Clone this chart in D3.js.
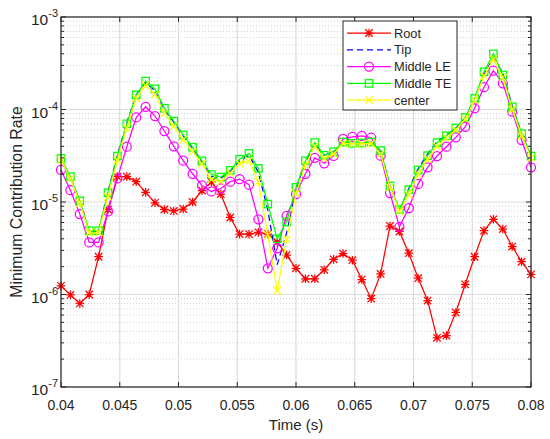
<!DOCTYPE html>
<html>
<head>
<meta charset="utf-8">
<script src="https://cdn.jsdelivr.net/npm/d3@7"></script>
<style>
  body { margin: 0; background: #fff; }
  text { font-family: "Liberation Sans", Arial, Helvetica, sans-serif; fill: #262626; }
</style>
</head>
<body>
<div id="chart"></div>
<script>
const width = 550;
const height = 439;

// sample times (s), 0.04 .. 0.08 every 0.8 ms
const time = d3.range(51).map(i => +(0.04 + i * 0.0008).toFixed(4));

const root = [1.24e-6, 0.99e-6, 8.0e-7, 1.0e-6, 2.56e-6, 8.3e-6, 1.88e-5, 1.88e-5, 1.66e-5, 1.27e-5,
  9.8e-6, 8.3e-6, 8.0e-6, 8.4e-6, 1.0e-5, 1.33e-5, 1.64e-5, 1.22e-5, 6.8e-6, 4.5e-6,
  4.5e-6, 4.7e-6, 4.5e-6, 3.7e-6, 2.67e-6, 1.92e-6, 1.48e-6, 1.48e-6, 1.85e-6, 2.4e-6,
  2.77e-6, 2.35e-6, 1.45e-6, 9.0e-7, 1.67e-6, 5.5e-6, 4.8e-6, 2.8e-6, 1.5e-6, 8.6e-7,
  3.4e-7, 3.6e-7, 6.4e-7, 1.29e-6, 2.56e-6, 4.9e-6, 6.5e-6, 5.1e-6, 3.3e-6, 2.26e-6, 1.65e-6];

const tip = [2.9e-5, 1.85e-5, 1.0e-5, 4.7e-6, 4.8e-6, 1.3e-5, 3.2e-5, 7.2e-5, 1.45e-4, 1.95e-4,
  1.6e-4, 1.0e-4, 7.3e-5, 5.2e-5, 3.8e-5, 2.7e-5, 1.9e-5, 1.8e-5, 2.15e-5, 2.8e-5,
  3.2e-5, 2.1e-5, 8.2e-6, 2.1e-6, 4.6e-6, 1.35e-5, 2.7e-5, 4.2e-5, 3.2e-5, 3.5e-5,
  4.3e-5, 4.3e-5, 4.3e-5, 4.4e-5, 3.6e-5, 1.5e-5, 8.0e-6, 1.4e-5, 2.3e-5, 3.3e-5,
  4.5e-5, 5.3e-5, 6.3e-5, 8.0e-5, 1.3e-4, 2.4e-4, 3.6e-4, 2.5e-4, 1.1e-4, 5.5e-5, 3.1e-5];

const middleLE = [2.22e-5, 1.34e-5, 7.4e-6, 3.66e-6, 3.66e-6, 7.9e-6, 1.8e-5, 3.96e-5, 8.2e-5, 1.07e-4,
  8.5e-5, 5.85e-5, 4.0e-5, 2.8e-5, 2.02e-5, 1.51e-5, 1.3e-5, 1.4e-5, 1.66e-5, 1.77e-5,
  1.54e-5, 6.5e-6, 1.92e-6, 3.16e-6, 7.1e-6, 1.22e-5, 2.02e-5, 3.0e-5, 2.62e-5, 3.15e-5,
  4.8e-5, 5.05e-5, 5.2e-5, 4.95e-5, 3.17e-5, 1.25e-5, 5.4e-6, 8.6e-6, 1.57e-5, 2.37e-5,
  3.14e-5, 3.96e-5, 5.0e-5, 6.5e-5, 1.03e-4, 1.74e-4, 2.63e-4, 1.92e-4, 9.5e-5, 4.68e-5, 2.37e-5];

const middleTE = [2.95e-5, 1.88e-5, 1.03e-5, 4.9e-6, 4.9e-6, 1.26e-5, 3.14e-5, 7.0e-5, 1.44e-4, 2.03e-4,
  1.67e-4, 1.03e-4, 7.5e-5, 5.3e-5, 3.9e-5, 2.78e-5, 1.98e-5, 1.86e-5, 2.2e-5, 2.9e-5,
  3.35e-5, 2.31e-5, 9.5e-6, 4.0e-6, 6.1e-6, 1.44e-5, 2.79e-5, 4.4e-5, 3.2e-5, 3.5e-5,
  4.45e-5, 4.3e-5, 4.35e-5, 4.45e-5, 3.6e-5, 1.49e-5, 8.3e-6, 1.36e-5, 2.22e-5, 3.17e-5,
  4.38e-5, 5.2e-5, 6.3e-5, 8.2e-5, 1.32e-4, 2.56e-4, 4.0e-4, 2.36e-4, 1.07e-4, 5.5e-5, 3.14e-5];

const center = [2.84e-5, 1.8e-5, 9.7e-6, 4.65e-6, 4.65e-6, 1.14e-5, 2.84e-5, 6.3e-5, 1.32e-4, 1.83e-4,
  1.45e-4, 9.1e-5, 6.6e-5, 4.7e-5, 3.5e-5, 2.6e-5, 1.75e-5, 1.66e-5, 2.05e-5, 2.6e-5,
  2.8e-5, 1.65e-5, 4.4e-6, 1.1e-6, 3.95e-6, 1.24e-5, 2.5e-5, 4.0e-5, 2.96e-5, 3.3e-5,
  4.3e-5, 4.25e-5, 4.25e-5, 4.3e-5, 3.3e-5, 1.44e-5, 7.9e-6, 1.2e-5, 2.0e-5, 2.9e-5,
  4.0e-5, 4.9e-5, 6.0e-5, 7.8e-5, 1.25e-4, 2.3e-4, 3.5e-4, 2.2e-4, 1.0e-4, 5.2e-5, 3.0e-5];

const xTicks = [0.04, 0.045, 0.05, 0.055, 0.06, 0.065, 0.07, 0.075, 0.08];
const yTickExps = [-7, -6, -5, -4, -3];

const series = [
  { name: "Root", values: root, color: "#ff0000", marker: "star", dash: null },
  { name: "Tip", values: tip, color: "#0000ff", marker: null, dash: "6,4" },
  { name: "Middle LE", values: middleLE, color: "#ff00ff", marker: "circle", dash: null },
  { name: "Middle TE", values: middleTE, color: "#00ff00", marker: "square", dash: null },
  { name: "center", values: center, color: "#ffff00", marker: "cross", dash: null }
];

const plotL = 61, plotR = 531, plotT = 17, plotB = 387;
const lw = 1.25;

const svg = d3.select("#chart")
    .append("svg")
    .attr("width", width)
    .attr("height", height);

const x = d3.scaleLinear().domain([0.04, 0.08]).range([plotL, plotR]);
const y = d3.scaleLog().domain([1e-7, 1e-3]).range([plotB, plotT]);

// minor y values 2..9 x 10^k
const minorY = [];
yTickExps.slice(0, -1).forEach(e => {
    for (let m = 2; m <= 9; m++) minorY.push(m * Math.pow(10, e));
});

// grid
const grid = svg.append("g");
grid.selectAll(".ym").data(minorY).enter().append("line")
    .attr("x1", plotL).attr("x2", plotR)
    .attr("y1", d => y(d)).attr("y2", d => y(d))
    .attr("stroke", "#c4c4c4").attr("stroke-width", 0.8)
    .attr("stroke-dasharray", "1,2");
grid.selectAll(".yM").data(yTickExps).enter().append("line")
    .attr("x1", plotL).attr("x2", plotR)
    .attr("y1", d => y(Math.pow(10, d))).attr("y2", d => y(Math.pow(10, d)))
    .attr("stroke", "#dcdcdc").attr("stroke-width", 1.2);
grid.selectAll(".xM").data(xTicks).enter().append("line")
    .attr("x1", d => x(d)).attr("x2", d => x(d))
    .attr("y1", plotT).attr("y2", plotB)
    .attr("stroke", "#dcdcdc").attr("stroke-width", 1.2);

// series lines
const line = d3.line()
    .x((d, i) => x(time[i]))
    .y(d => y(d));

const markerSize = 3.7;
function drawMarker(g, type, color, cx, cy) {
    const s = markerSize;
    if (type === "circle") {
        g.append("circle").attr("cx", cx).attr("cy", cy).attr("r", 4.5)
            .attr("fill", "none").attr("stroke", color).attr("stroke-width", lw);
    } else if (type === "square") {
        g.append("rect").attr("x", cx - s).attr("y", cy - s)
            .attr("width", 2 * s).attr("height", 2 * s)
            .attr("fill", "none").attr("stroke", color).attr("stroke-width", lw);
    } else if (type === "cross" || type === "star") {
        let d = `M${cx - s},${cy - s}L${cx + s},${cy + s}M${cx - s},${cy + s}L${cx + s},${cy - s}`;
        if (type === "star") d += `M${cx - s - 0.6},${cy}L${cx + s + 0.6},${cy}M${cx},${cy - s - 0.6}L${cx},${cy + s + 0.6}`;
        g.append("path").attr("d", d).attr("fill", "none")
            .attr("stroke", color).attr("stroke-width", lw);
    }
}

const plot = svg.append("g");
series.forEach(s => {
    plot.append("path")
        .datum(s.values)
        .attr("d", line)
        .attr("fill", "none")
        .attr("stroke", s.color)
        .attr("stroke-width", lw)
        .attr("stroke-dasharray", s.dash);
    if (s.marker) {
        const mg = plot.append("g");
        s.values.forEach((v, i) => drawMarker(mg, s.marker, s.color, x(time[i]), y(v)));
    }
});

// axes box + ticks
const axisColor = "#262626";
svg.append("rect")
    .attr("x", plotL).attr("y", plotT)
    .attr("width", plotR - plotL).attr("height", plotB - plotT)
    .attr("fill", "none").attr("stroke", axisColor).attr("stroke-width", 1.2);

const ticks = svg.append("g").attr("stroke", axisColor).attr("stroke-width", 1);
xTicks.forEach(t => {
    ticks.append("line").attr("x1", x(t)).attr("x2", x(t)).attr("y1", plotB).attr("y2", plotB - 5);
    ticks.append("line").attr("x1", x(t)).attr("x2", x(t)).attr("y1", plotT).attr("y2", plotT + 5);
});
yTickExps.forEach(e => {
    const yy = y(Math.pow(10, e));
    ticks.append("line").attr("x1", plotL).attr("x2", plotL + 5).attr("y1", yy).attr("y2", yy);
    ticks.append("line").attr("x1", plotR).attr("x2", plotR - 5).attr("y1", yy).attr("y2", yy);
});
minorY.forEach(v => {
    const yy = y(v);
    ticks.append("line").attr("x1", plotL).attr("x2", plotL + 3).attr("y1", yy).attr("y2", yy);
    ticks.append("line").attr("x1", plotR).attr("x2", plotR - 3).attr("y1", yy).attr("y2", yy);
});

// tick labels
svg.selectAll(".xl").data(xTicks).enter().append("text")
    .attr("x", d => x(d)).attr("y", 409.5)
    .attr("text-anchor", "middle")
    .attr("font-size", "14px")
    .text(d => d3.format("")(d));

yTickExps.forEach(e => {
    const t = svg.append("text")
        .attr("x", 58).attr("y", y(Math.pow(10, e)) + 8)
        .attr("text-anchor", "end")
        .attr("font-size", "15.5px");
    t.append("tspan").text("10");
    t.append("tspan").attr("dy", -8).attr("font-size", "11px").text(String(e));
});

// axis titles
svg.append("text")
    .attr("x", (plotL + plotR) / 2).attr("y", 430)
    .attr("text-anchor", "middle")
    .attr("font-size", "15px")
    .text("Time (s)");

svg.append("text")
    .attr("transform", `translate(22,${(plotT + plotB) / 2}) rotate(-90)`)
    .attr("text-anchor", "middle")
    .attr("font-size", "15.8px")
    .text("Minimum Contribution Rate");

// legend
const legend = svg.append("g");
legend.append("rect")
    .attr("x", 343).attr("y", 21).attr("width", 114).attr("height", 89)
    .attr("fill", "#fff").attr("stroke", axisColor).attr("stroke-width", 1);
series.forEach((s, i) => {
    const ly = 33 + i * 16.8;
    legend.append("line")
        .attr("x1", 347).attr("x2", 391).attr("y1", ly).attr("y2", ly)
        .attr("stroke", s.color).attr("stroke-width", lw)
        .attr("stroke-dasharray", s.dash);
    if (s.marker) drawMarker(legend, s.marker, s.color, 369, ly);
    legend.append("text")
        .attr("x", 394).attr("y", ly + 4.5)
        .attr("font-size", "12.8px")
        .text(s.name);
});
</script>
</body>
</html>
